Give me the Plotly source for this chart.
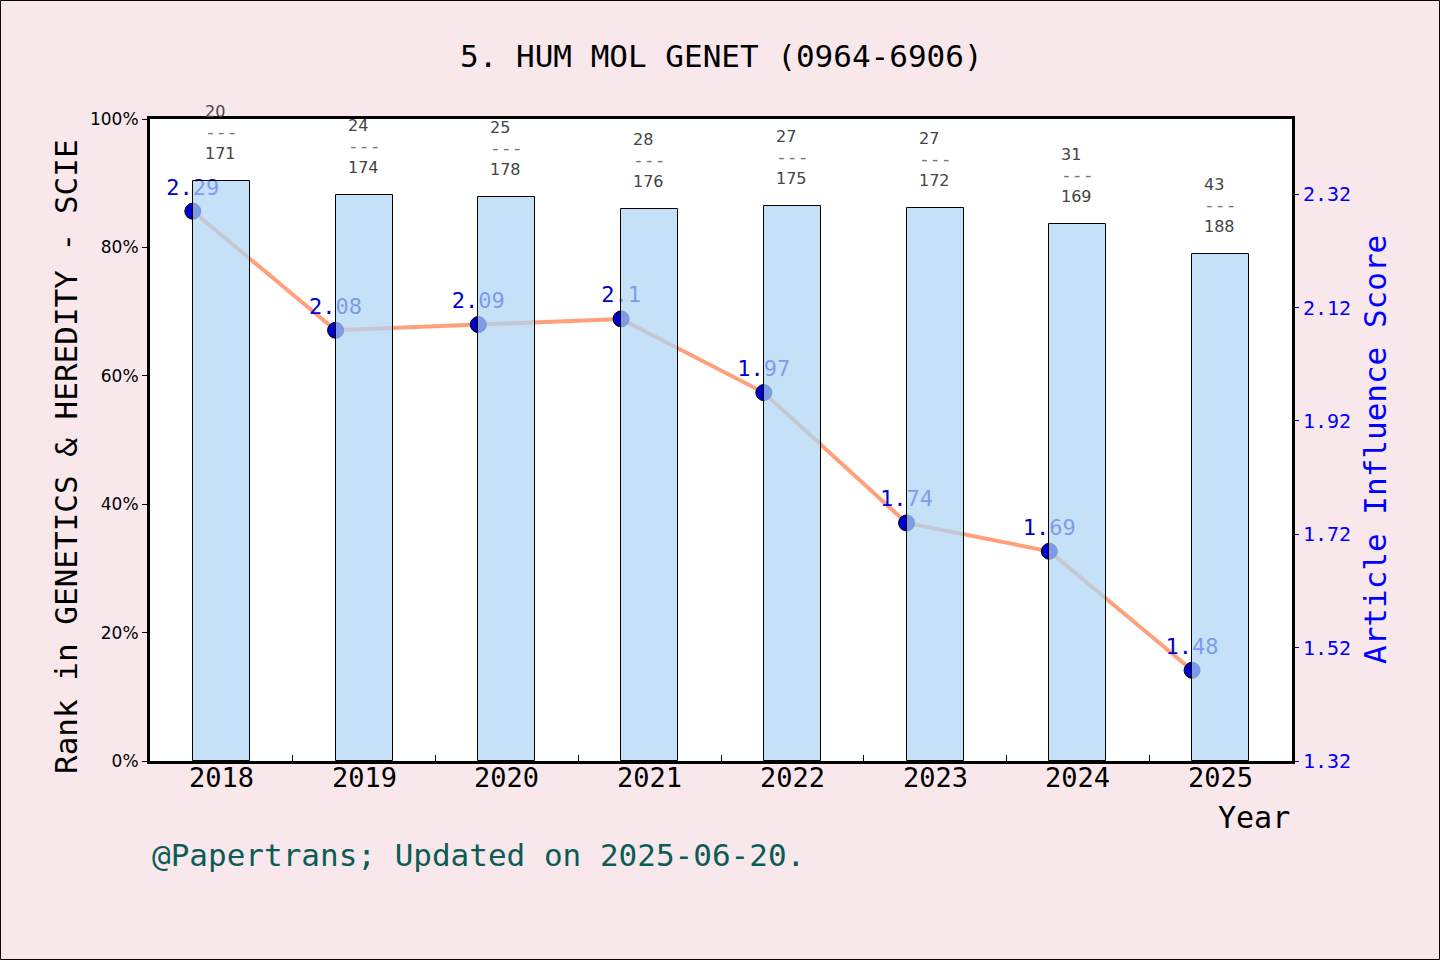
import plotly.graph_objects as go

years = ["2018", "2019", "2020", "2021", "2022", "2023", "2024", "2025"]
ranks = [20, 24, 25, 28, 27, 27, 31, 43]
totals = [171, 174, 178, 176, 175, 172, 169, 188]
rank_pct = [90.3, 88.1, 87.9, 86.0, 86.5, 86.2, 83.7, 79.0]
ais = [2.29, 2.08, 2.09, 2.1, 1.97, 1.74, 1.69, 1.48]
ais_labels = ["2.29", "2.08", "2.09", "2.1", "1.97", "1.74", "1.69", "1.48"]
right_ticks = [1.32, 1.52, 1.72, 1.92, 2.12, 2.32]
left_ticks = [0, 20, 40, 60, 80, 100]

W, H = 1440, 960
L, R, T, B = 150, 148, 119, 199
pw, ph = W - L - R, H - T - B

MONO = "DejaVu Sans Mono"
SANS = "DejaVu Sans"

xs = list(range(len(years)))
bar_w = 0.4
line_x = [i - bar_w / 2 for i in xs]

fig = go.Figure()

# line on base axis (drawn beneath bars)
fig.add_trace(go.Scatter(
    x=line_x, y=ais, xaxis="x", yaxis="y",
    mode="lines+markers+text",
    line=dict(color="rgb(255,160,122)", width=4),
    marker=dict(size=16, color="rgb(0,0,205)", line=dict(color="black", width=1)),
    text=ais_labels, textposition="top center",
    textfont=dict(family=MONO, size=22, color="rgb(0,0,205)"),
    cliponaxis=False, showlegend=False,
))

# bars on overlaying axis (drawn on top, semi-transparent)
fig.add_trace(go.Bar(
    x=xs, y=rank_pct, xaxis="x", yaxis="y2", width=bar_w,
    marker=dict(color="rgba(175,213,245,0.72)", line=dict(color="black", width=1)),
    showlegend=False,
))

annotations = []
for i in xs:
    annotations.append(dict(
        x=i, y=rank_pct[i], xref="x", yref="y2",
        text=(f"{ranks[i]}<br><span style='font-family:{MONO};font-size:18px;color:#777777'>---</span>"
              f"<br>{totals[i]}"),
        showarrow=False, align="left", xanchor="center", yanchor="bottom",
        yshift=16, font=dict(family=SANS, size=16, color="#444444"),
    ))

# x tick labels as annotations (pixel y placement)
for i in xs:
    annotations.append(dict(
        x=i, xref="x", y=1 - (777 - T) / ph, yref="paper", text=years[i],
        showarrow=False, xanchor="center", yanchor="middle",
        font=dict(family=MONO, size=27, color="black"),
    ))

n_fixed = len(annotations)
# titles / texts in pixel coordinates
extra = [
    dict(x=721, y=56, text="5. HUM MOL GENET (0964-6906)",
         font=dict(family=MONO, size=31, color="black")),
    dict(x=66, y=457, text="Rank in GENETICS &amp; HEREDITY - SCIE", textangle=-90,
         font=dict(family=MONO, size=31, color="black")),
    dict(x=1375, y=450, text="Article Influence Score", textangle=-90,
         font=dict(family=MONO, size=31, color="blue")),
    dict(x=1254, y=817, text="Year",
         font=dict(family=MONO, size=30, color="black")),
    dict(x=150, y=855, text="@Papertrans; Updated on 2025-06-20.", xanchor="left",
         font=dict(family=MONO, size=31, color="rgb(12,92,86)")),
]
for a in extra:
    a["xref"] = "paper"
    a["yref"] = "paper"
    a["x"] = (a["x"] - L) / pw
    a["y"] = 1 - (a["y"] - T) / ph
    a.setdefault("xanchor", "center")
    a["yanchor"] = "middle"
    a["showarrow"] = False
    annotations.append(a)

fig.update_layout(
    width=W, height=H,
    margin=dict(l=L, r=R, t=T, b=B, pad=0),
    paper_bgcolor="rgb(248,232,236)",
    plot_bgcolor="white",
    bargap=0,
    xaxis=dict(
        range=[-0.5, len(years) - 0.5], tickvals=xs, ticktext=years,
        showticklabels=False,
        ticks="", showgrid=False, zeroline=False,
        showline=True, linecolor="black", linewidth=3, mirror=True,
        minor=dict(tickvals=[i + 0.5 for i in xs[:-1]], ticks="inside",
                   ticklen=6, tickcolor="black", tickwidth=1),
    ),
    yaxis=dict(
        side="right", range=[1.32, 2.4527], tickvals=right_ticks,
        ticktext=[f"{v:.2f}" for v in right_ticks],
        ticks="outside", ticklen=4, tickcolor="blue", tickwidth=1,
        tickfont=dict(family=MONO, size=20, color="blue"),
        showgrid=False, zeroline=False,
        showline=True, linecolor="black", linewidth=3,
    ),
    yaxis2=dict(
        overlaying="y", side="left", range=[0, 100], tickvals=left_ticks,
        ticktext=[f"{v}%" for v in left_ticks],
        ticks="outside", ticklen=5, tickcolor="black", tickwidth=1,
        tickfont=dict(family=SANS, size=17, color="black"),
        showgrid=False, zeroline=False,
        showline=True, linecolor="black", linewidth=3,
    ),
    annotations=annotations,
    shapes=[dict(type="rect", xref="paper", yref="paper",
                 x0=-L / pw + 0.0004, x1=1 + R / pw - 0.0004,
                 y0=-B / ph + 0.0008, y1=1 + T / ph - 0.0008,
                 line=dict(color="black", width=1), layer="below")],
)

fig.write_html("out.html")
